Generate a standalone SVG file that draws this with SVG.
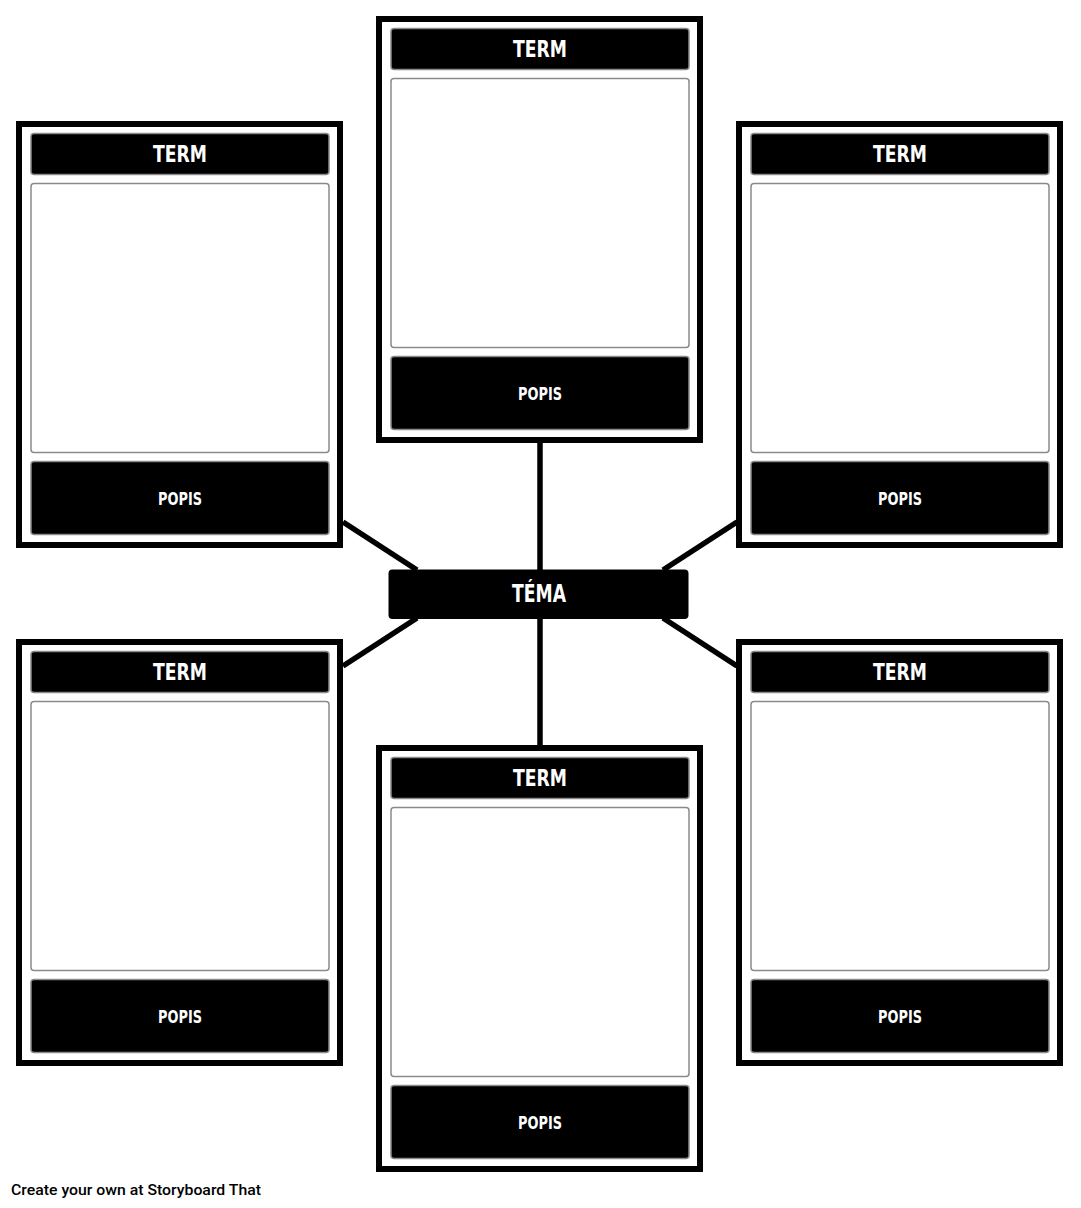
<svg xmlns="http://www.w3.org/2000/svg" width="1081" height="1208" viewBox="0 0 1081 1208">
<defs>
<style>
.frame{fill:#fff;stroke:#000;stroke-width:6}
.bar{fill:#000;stroke:#8a8a8a;stroke-width:1.5}
.img{fill:#fff;stroke:#8a8a8a;stroke-width:1.5}
.t{font-family:"DejaVu Sans Condensed","DejaVu Sans",sans-serif;font-weight:bold;fill:#fff;text-anchor:middle}
.term{font-size:23px}
.pop{font-size:17px}
.con{stroke:#000;stroke-width:5.5;fill:none}
</style>
<g id="card">
<rect class="frame" x="3" y="3" width="321" height="421"/>
<rect class="bar" x="15" y="12.5" width="298" height="41" rx="3"/>
<rect class="img" x="15" y="62.5" width="298" height="269" rx="3"/>
<rect class="bar" x="15" y="340.5" width="298" height="73" rx="3"/>
<text class="t term" x="164" y="41" textLength="54" lengthAdjust="spacingAndGlyphs">TERM</text>
<text class="t pop" x="164" y="384" textLength="44" lengthAdjust="spacingAndGlyphs">POPIS</text>
</g>
</defs>
<rect width="1081" height="1208" fill="#fff"/>
<g id="connectors">
<line class="con" x1="540" y1="440" x2="540" y2="572"/>
<line class="con" x1="540" y1="617" x2="540" y2="748"/>
<line class="con" x1="343" y1="522" x2="417" y2="570"/>
<line class="con" x1="343" y1="666" x2="417" y2="618"/>
<line class="con" x1="737" y1="522" x2="663" y2="570"/>
<line class="con" x1="737" y1="666" x2="663" y2="618"/>
</g>
<g id="card-top"><use href="#card" x="376" y="16"/></g>
<g id="card-top-left"><use href="#card" x="16" y="121"/></g>
<g id="card-top-right"><use href="#card" x="736" y="121"/></g>
<g id="card-bottom-left"><use href="#card" x="16" y="639"/></g>
<g id="card-bottom-right"><use href="#card" x="736" y="639"/></g>
<g id="card-bottom"><use href="#card" x="376" y="745"/></g>
<g id="topic">
<rect x="388.5" y="569.5" width="300" height="49.5" rx="4" fill="#000"/>
<text class="t" x="539" y="602" font-size="25" textLength="54" lengthAdjust="spacingAndGlyphs">TÉMA</text>
</g>
<text x="11" y="1195" font-family="Roboto, sans-serif" font-size="15" font-weight="500" fill="#000" textLength="250" lengthAdjust="spacingAndGlyphs">Create your own at Storyboard That</text>
</svg>
